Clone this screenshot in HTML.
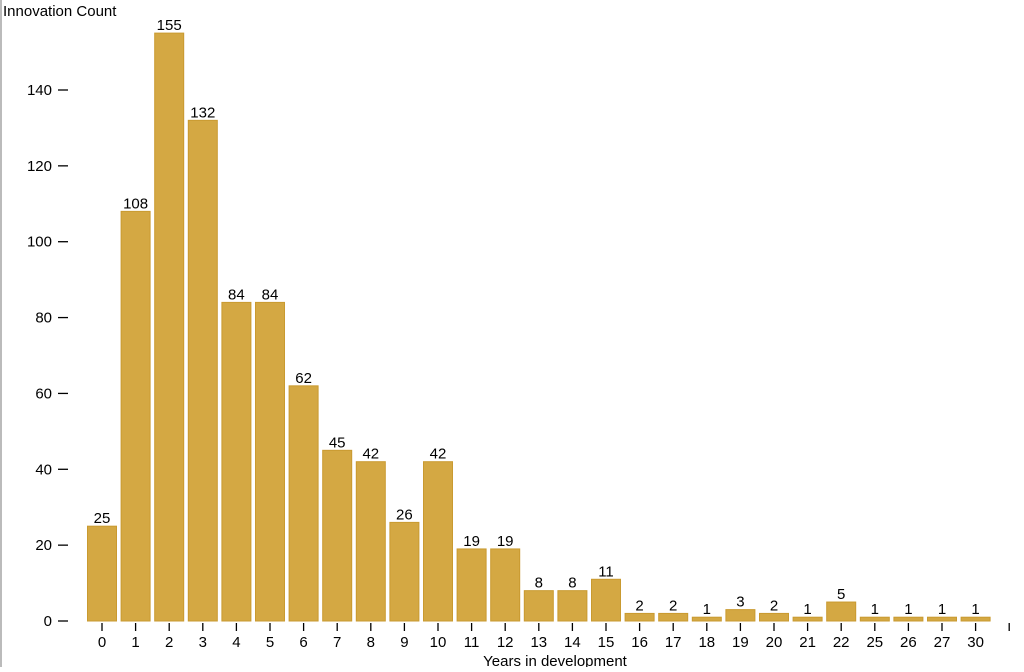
<!DOCTYPE html>
<html><head><meta charset="utf-8"><style>
body{margin:0;background:#fff;width:1024px;height:667px;overflow:hidden}
svg{font-family:"Liberation Sans",sans-serif}
</style></head><body>
<svg width="1024" height="667">
<rect x="0" y="0" width="2" height="667" fill="#bbb"/>
<text x="3" y="16" font-size="15">Innovation Count</text>
<text x="555" y="666" font-size="15" text-anchor="middle">Years in development</text>
<g id="yaxis"></g>
<g id="xaxis"></g>
<g id="bars"></g>
</svg>
<script>
const categories=["0","1","2","3","4","5","6","7","8","9","10","11","12","13","14","15","16","17","18","19","20","21","22","25","26","27","30"];
const values=[25,108,155,132,84,84,62,45,42,26,42,19,19,8,8,11,2,2,1,3,2,1,5,1,1,1,1];
const yTicks=[0,20,40,60,80,100,120,140];
const NS="http://www.w3.org/2000/svg";
const y0=621,yPer=(621-90)/140;
const y=v=>y0-v*yPer;
const step=33.6,c0=102;
const x=i=>c0+i*step;
function mk(t,a,p){const e=document.createElementNS(NS,t);for(const k in a)e.setAttribute(k,a[k]);p.appendChild(e);return e;}
const ya=document.getElementById('yaxis'),xa=document.getElementById('xaxis'),bs=document.getElementById('bars');
yTicks.forEach(t=>{
 const l=mk('line',{x1:58,x2:68,y1:y(t),y2:y(t),stroke:'#000','stroke-width':1.3},ya);
 
 
 const tx=mk('text',{x:52,y:y(t)+5,'font-size':15,'text-anchor':'end'},ya);
 tx.textContent=t;
 
 
});
for(let i=0;i<=categories.length;i++){
 const l=mk('line',{x1:x(i),x2:x(i),y1:623,y2:631,stroke:'#000','stroke-width':1.3},xa);
 
 
 if(i<categories.length){
  const tx=mk('text',{x:x(i),y:647,'font-size':15,'text-anchor':'middle'},xa);
  tx.textContent=categories[i];
  
  
 }
}
values.forEach((v,i)=>{
 const r=mk('rect',{x:x(i)-14.5,y:y(v),width:29,height:y0-y(v),fill:'#d4a843',stroke:'#c99a30','stroke-width':1},bs);
 
 
 const tx=mk('text',{x:x(i),y:y(v)-3,'font-size':15,'text-anchor':'middle'},bs);
 tx.textContent=v;
 
 
});
</script>
</body></html>
